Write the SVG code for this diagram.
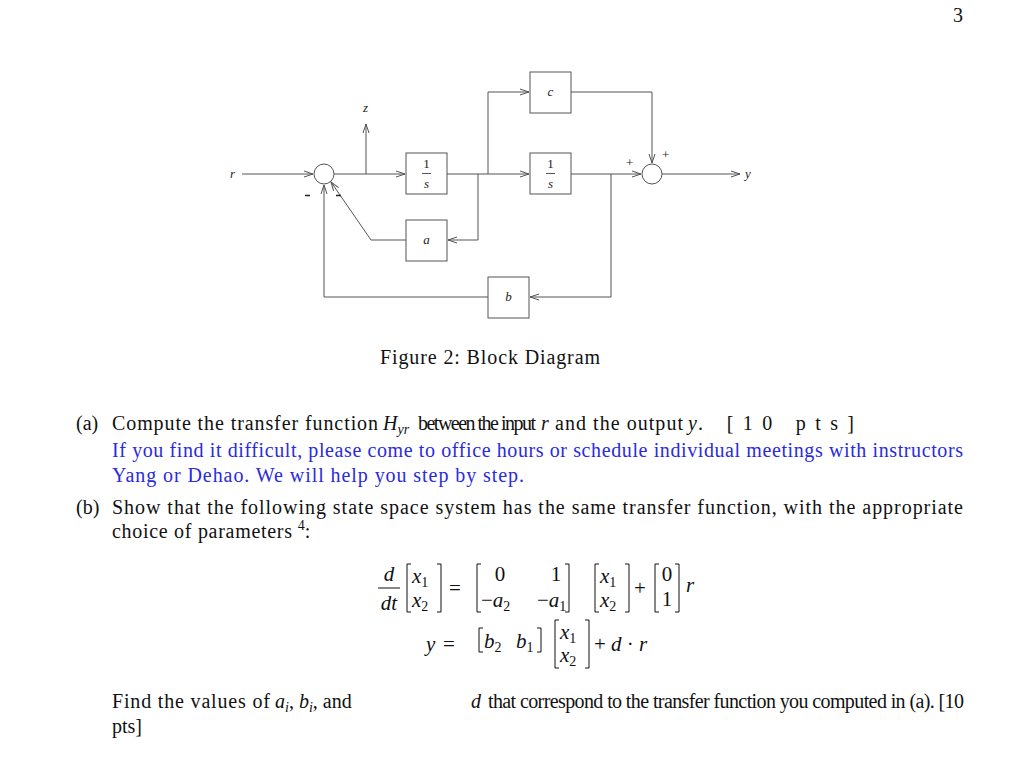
<svg xmlns="http://www.w3.org/2000/svg" width="1024" height="760" viewBox="0 0 1024 760">
<style>
.b{fill:#fff;stroke:#555;stroke-width:1}
.l{fill:none;stroke:#555;stroke-width:1}
.t{font-family:"Liberation Serif",serif;font-size:20px;fill:#111}
.i{font-family:"Liberation Serif",serif;font-style:italic;font-size:13px;fill:#222}
.s{font-family:"Liberation Serif",serif;font-size:13px;fill:#222}
.m{font-family:"Liberation Serif",serif;font-size:21px;fill:#111}
.mi{font-style:italic}
.bl{fill:#2a2ae0}
</style>
<defs><marker id="a" markerWidth="10" markerHeight="8" refX="9" refY="4" orient="auto" markerUnits="userSpaceOnUse"><path d="M0,1 L9,4 L0,7" fill="none" stroke="#555"/></marker></defs>
<rect width="1024" height="760" fill="#fff"/>
<text class="t" x="953" y="22">3</text>
<g id="connectors">
<path class="l" d="M242,174H313" marker-end="url(#a)"/>
<path class="l" d="M366,174V124" marker-end="url(#a)"/>
<path class="l" d="M334,174H405" marker-end="url(#a)"/>
<path class="l" d="M447,174H529" marker-end="url(#a)"/>
<path class="l" d="M478,174V240H448" marker-end="url(#a)"/>
<path class="l" d="M488,174V92H529" marker-end="url(#a)"/>
<path class="l" d="M571,92H652V163" marker-end="url(#a)"/>
<path class="l" d="M571,174H641" marker-end="url(#a)"/>
<path class="l" d="M611,174V297H530" marker-end="url(#a)"/>
<path class="l" d="M488,297H324V185" marker-end="url(#a)"/>
<path class="l" d="M406,240H371L331,182" marker-end="url(#a)"/>
<path class="l" d="M662,174H740" marker-end="url(#a)"/>
</g>
<g id="sum1"><circle class="b" cx="324" cy="174" r="10"/></g>
<g id="sum2"><circle class="b" cx="652" cy="174" r="10"/></g>
<g id="int1"><rect class="b" x="406" y="153" width="41" height="41"/><text class="s" x="426.5" y="168" text-anchor="middle">1</text><line class="l" x1="422" y1="173.5" x2="431" y2="173.5"/><text class="i" x="426.5" y="188" text-anchor="middle">s</text></g>
<g id="int2"><rect class="b" x="530" y="153" width="41" height="41"/><text class="s" x="550.5" y="168" text-anchor="middle">1</text><line class="l" x1="546" y1="173.5" x2="555" y2="173.5"/><text class="i" x="550.5" y="188" text-anchor="middle">s</text></g>
<g id="c"><rect class="b" x="530" y="72" width="41" height="41"/><text class="i" x="550.5" y="96" text-anchor="middle">c</text></g>
<g id="a1"><rect class="b" x="406" y="220" width="41" height="41"/><text class="i" x="426.5" y="244" text-anchor="middle">a</text></g>
<g id="b1"><rect class="b" x="488" y="277" width="41" height="41"/><text class="i" x="508.5" y="301" text-anchor="middle">b</text></g>
<g id="labels">
<text class="i" x="230" y="178">r</text>
<text class="i" x="363" y="112">z</text>
<text class="i" x="745" y="178">y</text>
<line x1="305" y1="195.5" x2="310" y2="195.5" stroke="#222" stroke-width="1.5"/>
<line x1="336" y1="195.5" x2="341" y2="195.5" stroke="#222" stroke-width="1.5"/>
<text class="s" x="626" y="167">+</text>
<text class="s" x="662" y="159">+</text>
</g>
<text class="t" x="380" y="364" textLength="220">Figure 2: Block Diagram</text>
<text class="t" x="76" y="430">(a)</text>
<text class="t" x="112" y="430" textLength="266">Compute the transfer function</text>
<text class="t mi" x="383" y="430">H<tspan font-size="14" dy="4">yr</tspan></text>
<text class="t" x="418" y="430" textLength="118">between the input</text>
<text class="t mi" x="541" y="430">r</text>
<text class="t" x="555" y="430" textLength="128">and the output</text>
<text class="t mi" x="688" y="430">y</text>
<text class="t" x="698" y="430" textLength="156">. [10 pts]</text>
<text class="t bl" x="112" y="457" textLength="851">If you find it difficult, please come to office hours or schedule individual meetings with instructors</text>
<text class="t bl" x="112" y="482" textLength="412">Yang or Dehao. We will help you step by step.</text>
<text class="t" x="76" y="514">(b)</text>
<text class="t" x="112" y="514" textLength="851">Show that the following state space system has the same transfer function, with the appropriate</text>
<text class="t" x="112" y="538"><tspan textLength="180">choice of parameters</tspan> <tspan font-size="14" dy="-8">4</tspan><tspan dy="8">:</tspan></text>
<g id="eq" class="m">
<text x="389" y="581" text-anchor="middle" class="mi">d</text>
<line x1="378" y1="588" x2="400" y2="588" stroke="#111"/>
<text x="389" y="610" text-anchor="middle" class="mi">dt</text>
<path d="M411,564h-4v48h4M437,564h4v48h-4" fill="none" stroke="#111"/>
<text x="412" y="583" class="mi">x<tspan font-size="14" dy="4" font-style="normal">1</tspan></text>
<text x="412" y="607" class="mi">x<tspan font-size="14" dy="4" font-style="normal">2</tspan></text>
<text x="449" y="595">=</text>
<path d="M481,564h-4v48h4M565,564h4v48h-4" fill="none" stroke="#111"/>
<text x="500" y="581" text-anchor="middle">0</text>
<text x="556" y="581" text-anchor="middle">1</text>
<text x="481" y="607">−<tspan class="mi">a</tspan><tspan font-size="14" dy="4">2</tspan></text>
<text x="537" y="607">−<tspan class="mi">a</tspan><tspan font-size="14" dy="4">1</tspan></text>
<path d="M599,564h-4v48h4M625,564h4v48h-4" fill="none" stroke="#111"/>
<text x="600" y="583" class="mi">x<tspan font-size="14" dy="4" font-style="normal">1</tspan></text>
<text x="600" y="607" class="mi">x<tspan font-size="14" dy="4" font-style="normal">2</tspan></text>
<text x="634" y="595">+</text>
<path d="M659,564h-4v48h4M675,564h4v48h-4" fill="none" stroke="#111"/>
<text x="667" y="581" text-anchor="middle">0</text>
<text x="667" y="606" text-anchor="middle">1</text>
<text x="686" y="592" class="mi">r</text>
<text x="426" y="651" class="mi">y</text>
<text x="443" y="651">=</text>
<path d="M483,628h-4v24h4M537,628h4v24h-4" fill="none" stroke="#111"/>
<text x="484" y="648" class="mi">b<tspan font-size="14" dy="4" font-style="normal">2</tspan></text>
<text x="516" y="648" class="mi">b<tspan font-size="14" dy="4" font-style="normal">1</tspan></text>
<path d="M559,620h-4v48h4M585,620h4v48h-4" fill="none" stroke="#111"/>
<text x="560" y="639" class="mi">x<tspan font-size="14" dy="4" font-style="normal">1</tspan></text>
<text x="560" y="662" class="mi">x<tspan font-size="14" dy="4" font-style="normal">2</tspan></text>
<text x="594" y="651">+ <tspan class="mi">d</tspan> · <tspan class="mi">r</tspan></text>
</g>
<text class="t" x="112" y="708" textLength="158">Find the values of</text>
<text class="t" x="275" y="708"><tspan class="mi">a</tspan><tspan font-size="14" dy="4" class="mi">i</tspan><tspan dy="-4">, </tspan><tspan class="mi">b</tspan><tspan font-size="14" dy="4" class="mi">i</tspan><tspan dy="-4">, and </tspan></text>
<text class="t mi" x="471" y="708">d</text>
<text class="t" x="488" y="708" textLength="476">that correspond to the transfer function you computed in (a). [10</text>
<text class="t" x="112" y="733">pts]</text>
</svg>
